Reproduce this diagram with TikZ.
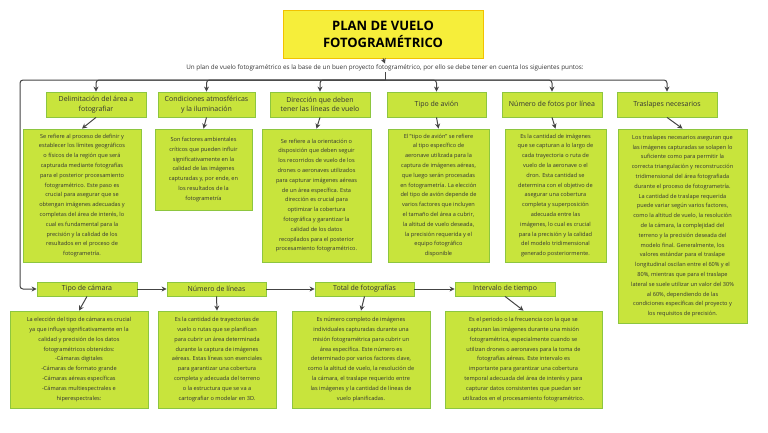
\documentclass[tikz,border=0pt]{standalone}
\usepackage{fontspec}
\setmainfont{Open Sans}
\usetikzlibrary{arrows.meta}
\definecolor{lime}{HTML}{C8E43C}
\definecolor{limeb}{HTML}{8DC63F}
\definecolor{ttl}{HTML}{F6EE3A}
\definecolor{ttlb}{HTML}{F2C200}
\definecolor{ln}{HTML}{444444}
\tikzset{
 hdr/.style={draw=limeb,fill=lime,line width=0.8pt,align=center,inner sep=1pt,font=\fontsize{7}{9.5}\selectfont,text=black!80},
 det/.style={draw=limeb,fill=lime,line width=0.8pt,align=center,inner sep=1pt,font=\fontsize{5.6}{9.8}\selectfont,text=black!80},
 arr/.style={draw=ln,line width=1pt,-{Stealth[length=5pt,width=5pt]},rounded corners=3pt}
}
\begin{document}
\begin{tikzpicture}[x=1pt,y=-1pt]
\useasboundingbox (0,0) rectangle (768,432);
\node[draw=ttlb,fill=ttl,line width=0.8pt,minimum width=200pt,minimum height=48pt,align=center,font=\fontsize{13}{17}\selectfont\bfseries] (title) at (383,34) {PLAN DE VUELO\\FOTOGRAMÉTRICO};
\node[font=\fontsize{6.3}{8}\selectfont,text=black!80,inner sep=1pt] (sub) at (385,68) {Un plan de vuelo fotogramétrico es la base de un buen proyecto fotogramétrico, por ello se debe tener en cuenta los siguientes puntos:};
\draw[arr] (title.south) -- (sub.north);
\coordinate (j) at (385,80);
\coordinate (L) at (20,80);
\draw[draw=ln,line width=1pt] (sub.south) -- (j);
\foreach \n/\x/\w/\t in {H1/96/100/{Delimitación del área a\\fotografiar},H2/206.5/97/{Condiciones atmosféricas\\y la iluminación},H3/320/100/{Dirección que deben\\tener las líneas de vuelo},H4/436.5/99/{Tipo de avión},H5/552/100/{Número de fotos por línea},H6/667/100/{Traslapes necesarios}}
 \node[hdr,minimum width=\w pt,minimum height=25pt] (\n) at (\x,104.5) {\t};
\foreach \n in {H1,H2,H3,H4,H5,H6} \draw[arr] (j) -| (\n.north);
\node[det,minimum width=118pt,minimum height=133pt] (D1) at (82,195.5) {Se refiere al proceso de definir y\\establecer los límites geográficos\\o físicos de la región que será\\capturada mediante fotografías\\para el posterior procesamiento\\fotogramétrico. Este paso es\\crucial para asegurar que se\\obtengan imágenes adecuadas y\\completas del área de interés, lo\\cual es fundamental para la\\precisión y la calidad de los\\resultados en el proceso de\\fotogrametría.};
\node[det,minimum width=97pt,minimum height=81pt] (D2) at (203.5,169.5) {Son factores ambientales\\críticos que pueden influir\\significativamente en la\\calidad de las imágenes\\capturadas y, por ende, en\\los resultados de la\\fotogrametría};
\node[det,minimum width=109pt,minimum height=133pt] (D3) at (316.5,195.5) {Se refiere a la orientación o\\disposición que deben seguir\\los recorridos de vuelo de los\\drones o aeronaves utilizados\\para capturar imágenes aéreas\\de un área específica. Esta\\dirección es crucial para\\optimizar la cobertura\\fotográfica y garantizar la\\calidad de los datos\\recopilados para el posterior\\procesamiento fotogramétrico.};
\node[det,minimum width=101pt,minimum height=133pt] (D4) at (438.5,195.5) {El "tipo de avión" se refiere\\al tipo específico de\\aeronave utilizada para la\\captura de imágenes aéreas,\\que luego serán procesadas\\en fotogrametría. La elección\\del tipo de avión depende de\\varios factores que incluyen\\el tamaño del área a cubrir,\\la altitud de vuelo deseada,\\la precisión requerida y el\\equipo fotográfico\\disponible};
\node[det,minimum width=101pt,minimum height=133pt] (D5) at (555.5,195.5) {Es la cantidad de imágenes\\que se capturan a lo largo de\\cada trayectoria o ruta de\\vuelo de la aeronave o el\\dron. Esta cantidad se\\determina con el objetivo de\\asegurar una cobertura\\completa y superposición\\adecuada entre las\\imágenes, lo cual es crucial\\para la precisión y la calidad\\del modelo tridimensional\\generado posteriormente.};
\node[det,minimum width=129pt,minimum height=194pt] (D6) at (682.5,226) {Los traslapes necesarios aseguran que\\las imágenes capturadas se solapen lo\\suficiente como para permitir la\\correcta triangulación y reconstrucción\\tridimensional del área fotografiada\\durante el proceso de fotogrametría.\\La cantidad de traslape requerida\\puede variar según varios factores,\\como la altitud de vuelo, la resolución\\de la cámara, la complejidad del\\terreno y la precisión deseada del\\modelo final. Generalmente, los\\valores estándar para el traslape\\longitudinal oscilan entre el 60\% y el\\80\%, mientras que para el traslape\\lateral se suele utilizar un valor del 30\%\\al 60\%, dependiendo de las\\condiciones específicas del proyecto y\\los requisitos de precisión.};
\foreach \i in {1,...,6} \draw[arr] (H\i.south) -- (D\i.north);
\foreach \n/\x/\w/\t in {B1/87/100/{Tipo de cámara},B2/216.5/99/{Número de líneas},B3/364.5/99/{Total de fotografías},B4/505/100/{Intervalo de tiempo}}
 \node[hdr,minimum width=\w pt,minimum height=14pt] (\n) at (\x,289) {\t};
\draw[arr] (j) -- (L) |- (B1.west);
\draw[arr] (B1) -- (B2); \draw[arr] (B2) -- (B3); \draw[arr] (B3) -- (B4);
\node[det,minimum width=138pt,minimum height=97pt] (E1) at (79,359.5) {La elección del tipo de cámara es crucial\\ya que influye significativamente en la\\calidad y precisión de los datos\\fotogramétricos obtenidos:\\-Cámaras digitales\\-Cámaras de formato grande\\-Cámaras aéreas específicas\\-Cámaras multiespectrales e\\hiperespectrales:};
\node[det,minimum width=118pt,minimum height=97pt] (E2) at (217,359.5) {Es la cantidad de trayectorias de\\vuelo o rutas que se planifican\\para cubrir un área determinada\\durante la captura de imágenes\\aéreas. Estas líneas son esenciales\\para garantizar una cobertura\\completa y adecuada del terreno\\o la estructura que se va a\\cartografiar o modelar en 3D.};
\node[det,minimum width=138pt,minimum height=97pt] (E3) at (361,359.5) {Es número completo de imágenes\\individuales capturadas durante una\\misión fotogramétrica para cubrir un\\área específica. Este número es\\determinado por varios factores clave,\\como la altitud de vuelo, la resolución de\\la cámara, el traslape requerido entre\\las imágenes y la cantidad de líneas de\\vuelo planificadas.};
\node[det,minimum width=157pt,minimum height=97pt] (E4) at (523.5,359.5) {Es el periodo o la frecuencia con la que se\\capturan las imágenes durante una misión\\fotogramétrica, especialmente cuando se\\utilizan drones o aeronaves para la toma de\\fotografías aéreas. Este intervalo es\\importante para garantizar una cobertura\\temporal adecuada del área de interés y para\\capturar datos consistentes que puedan ser\\utilizados en el procesamiento fotogramétrico.};
\foreach \i in {1,...,4} \draw[arr] (B\i.south) -- (E\i.north);
\end{tikzpicture}
\end{document}
